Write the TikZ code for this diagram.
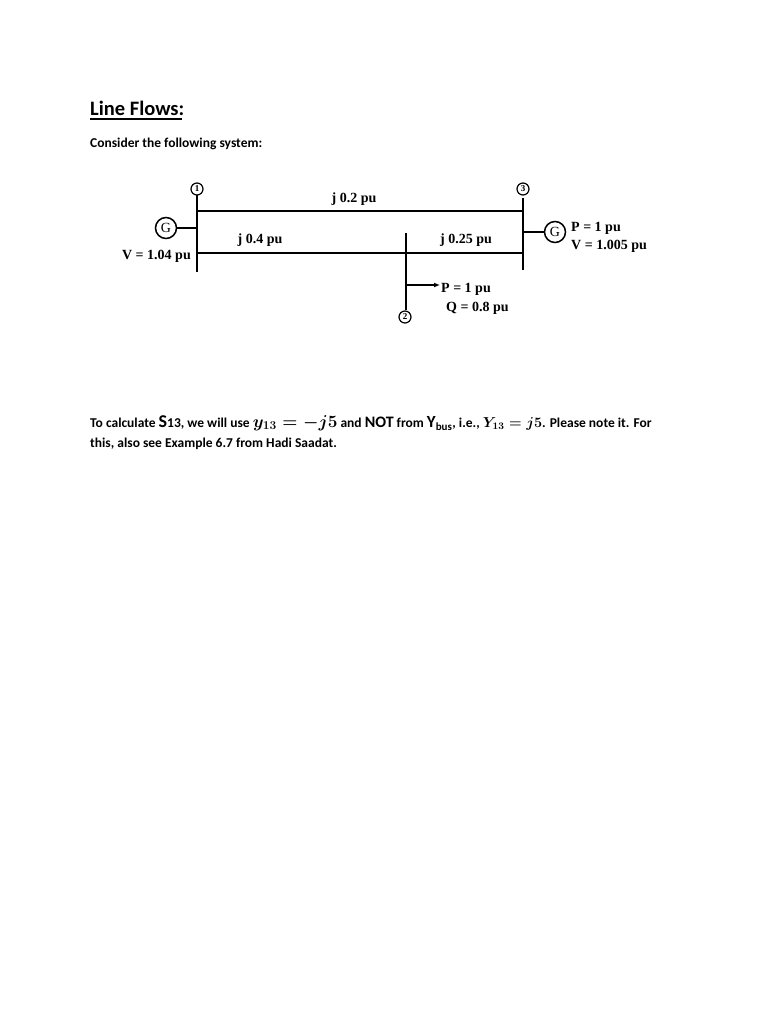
\documentclass[tikz,border=0pt]{standalone}
\usepackage{fontspec}
\setmainfont{Carlito}
\newfontfamily\tms{Liberation Serif}
\usepackage{amsmath}
\usetikzlibrary{arrows.meta}
\begin{document}
\begin{tikzpicture}[x=1pt,y=-1pt,
  lbl/.style={font=\tms\bfseries\fontsize{14}{16}\selectfont,inner sep=0pt},
  txt/.style={font=\bfseries\fontsize{13.5}{16}\selectfont,inner sep=0pt,anchor=west},
  gen/.style={circle,draw,line width=1.5pt,minimum size=21pt,inner sep=0pt,font=\tms\fontsize{14}{14}\selectfont},
  busno/.style={circle,draw,line width=1.2pt,minimum size=12pt,inner sep=0pt,font=\tms\bfseries\fontsize{9}{9}\selectfont},
  ln/.style={line width=1.2pt},
  bus/.style={line width=2pt}]
\fill[white] (0,0) rectangle (768,1024);
\useasboundingbox (0,0) rectangle (768,1024);
\node[anchor=west,inner sep=0pt,font=\bfseries\fontsize{20.5}{24}\selectfont] (title) at (90,108) {Line Flows:};
\coordinate (u0) at (90,119); \coordinate (u1) at (182,119);
\draw[line width=1.4pt] (u0) -- (u1);
\node[txt] (cons) at (90,144) {Consider the following system:};
% buses
\coordinate (b1t) at (197,195); \coordinate (b1b) at (197,272);
\coordinate (b3t) at (523,198); \coordinate (b3b) at (523,270);
\coordinate (b2t) at (406,233); \coordinate (b2b) at (406,310);
\draw[bus] (b1t) -- (b1b);
\draw[bus] (b3t) -- (b3b);
\draw[bus] (b2t) -- (b2b);
\coordinate (t1) at (197,211); \coordinate (t3) at (523,211);
\coordinate (l1) at (197,253); \coordinate (l3) at (523,253);
\draw[ln] (t1) -- (t3);
\draw[ln] (l1) -- (l3);
\node[gen] (g1) at (166,228) {G};
\node[gen] (g3) at (555,232) {G};
\draw[ln] (g1.east) -- (197,228);
\draw[ln] (g3.west) -- (523,232);
\coordinate (a0) at (406,285); \coordinate (a1) at (440,285);
\draw[ln,-{Latex[length=6pt,width=5pt]}] (a0) -- (a1);
\node[busno] (n1) at (197,189) {1};
\node[busno] (n3) at (523,189) {3};
\node[busno] (n2) at (405,317) {2};
\node[lbl] (z12) at (354,199) {j 0.2 pu};
\node[lbl] (z1) at (260,240) {j 0.4 pu};
\node[lbl] (z23) at (466,240) {j 0.25 pu};
\node[lbl,anchor=east] (v1) at (191,256) {V = 1.04 pu};
\node[lbl,anchor=west] (p3) at (571,228) {P = 1 pu};
\node[lbl,anchor=west] (v3) at (571,246) {V = 1.005 pu};
\node[lbl,anchor=west] (p2) at (441,289) {P = 1 pu};
\node[lbl,anchor=west] (q2) at (446,308) {Q = 0.8 pu};
\node[txt] (l1t) at (90,423) {To calculate {\fontsize{18}{18}\selectfont S}{\fontsize{13.5}{14}\selectfont 13}, we will use {\fontsize{16.5}{17}\selectfont$\boldsymbol{y_{13}=-j5}$} and {\fontsize{16}{16}\selectfont NOT} from {\fontsize{17}{17}\selectfont Y}\textsubscript{\fontsize{11}{11}\selectfont bus}, i.e., {\fontsize{14.5}{15}\selectfont$\boldsymbol{Y_{13}=j5}$}. Please note it. For};
\node[txt] (l2t) at (90,444) {this, also see Example 6.7 from Hadi Saadat.};
\end{tikzpicture}
\end{document}
